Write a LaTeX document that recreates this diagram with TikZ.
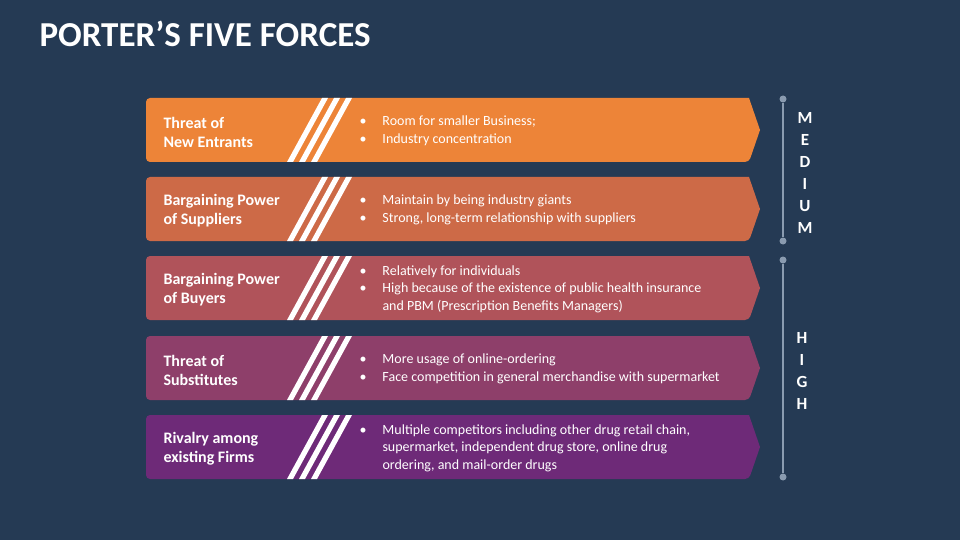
\documentclass[tikz,border=0pt]{standalone}
\usepackage{fontspec}
\setmainfont{Carlito}
\definecolor{bg}{HTML}{253A54}
\definecolor{c1}{HTML}{ED8438}
\definecolor{c2}{HTML}{CD6A47}
\definecolor{c3}{HTML}{B0535A}
\definecolor{c4}{HTML}{8E3F6A}
\definecolor{c5}{HTML}{6E2A78}
\definecolor{ln}{HTML}{8A9BB0}
\begin{document}
\begin{tikzpicture}[x=1pt,y=-1pt,
  head/.style={anchor=west,text=white,font=\fontsize{16}{19}\selectfont\bfseries,align=left},
  body/.style={anchor=west,text=white,font=\fontsize{14}{17.5}\selectfont,align=left},
  dot/.style={circle,fill=ln,inner sep=0pt,minimum size=7pt},
  let/.style={text=white,font=\fontsize{17}{19}\selectfont\bfseries,align=center}]
\fill[bg] (0,0) rectangle (960,540);
\node[anchor=west,text=white,font=\fontsize{35}{40}\selectfont\bfseries] (t) at (36,34) {PORTER’S FIVE FORCES};
\def\row#1#2#3#4#5{%
  \fill[#2,rounded corners=4pt] (749,#1) -- (146,#1) -- (146,#1+64) -- (749,#1+64) [sharp corners] -- (760,#1+32) -- cycle;
  \foreach \dx in {0,12,24}{\fill[white] (322+\dx,#1) -- (328+\dx,#1) -- (293+\dx,#1+64) -- (287+\dx,#1+64) -- cycle;}
  \node[head] (h#5) at (160,#1+34) {#3};
  \node[body] (b#5) at (356,#1+33) {#4};}
\def\bl{\textbullet\hspace{16pt}}
\def\nb{\hphantom{\textbullet}\hspace{16pt}}
\row{98}{c1}{Threat of\\New Entrants}{\bl Room for smaller Business;\\\bl Industry concentration}{1}
\row{177}{c2}{Bargaining Power\\of Suppliers}{\bl Maintain by being industry giants\\\bl Strong, long-term relationship with suppliers}{2}
\row{256}{c3}{Bargaining Power\\of Buyers}{\bl Relatively for individuals\\\bl High because of the existence of public health insurance\\\nb and PBM (Prescription Benefits Managers)}{3}
\row{336}{c4}{Threat of\\Substitutes}{\bl More usage of online-ordering\\\bl Face competition in general merchandise with supermarket}{4}
\row{415}{c5}{Rivalry among\\existing Firms}{\bl Multiple competitors including other drug retail chain,\\\nb supermarket, independent drug store, online drug\\\nb ordering, and mail-order drugs}{5}
\node[dot] (m1) at (783,99) {};
\node[dot] (m2) at (783,241) {};
\node[dot] (k1) at (783,260) {};
\node[dot] (k2) at (783,477) {};
\draw[ln,line width=1.5pt] (m1) -- (m2);
\draw[ln,line width=1.5pt] (k1) -- (k2);
\node[let] (med) at (805,173) {M\\[3pt]E\\[3pt]D\\[3pt]I\\[3pt]U\\[3pt]M};
\node[let] (hi) at (802,371) {H\\[3pt]I\\[3pt]G\\[3pt]H};
\end{tikzpicture}
\end{document}
